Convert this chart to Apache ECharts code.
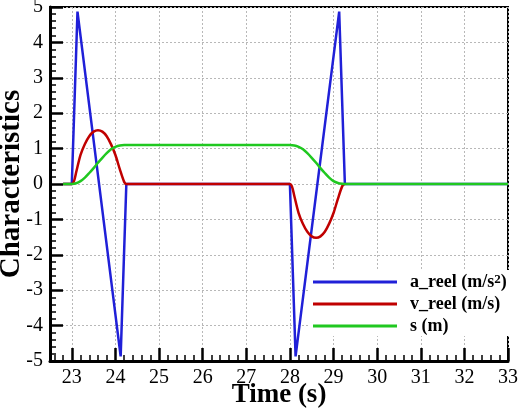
<!DOCTYPE html>
<html><head><meta charset="utf-8">
<script src="https://cdn.jsdelivr.net/npm/echarts@6/dist/echarts.min.js"></script>
<style>html,body{margin:0;padding:0;background:#fff}#c{width:520px;height:410px}</style>
</head><body><div id="c"></div>
<script>
// ---- data ----
const xTicks = [23, 24, 25, 26, 27, 28, 29, 30, 31, 32, 33];
const yTicks = [-5, -4, -3, -2, -1, 0, 1, 2, 3, 4, 5];

const aTime = [22.8, 23.0, 23.13, 24.12, 24.25, 28.0, 28.13, 29.13, 29.26, 33.0];
const aVals = [0, 0, 4.87, -4.87, 0, 0, -4.87, 4.87, 0, 0];

const vTime = [22.8, 23.0, 23.05, 23.1, 23.2, 23.3, 23.4, 23.5, 23.6, 23.7, 23.8, 23.9, 24.0, 24.1, 24.2, 24.25,
               28.0, 28.05, 28.1, 28.2, 28.3, 28.4, 28.5, 28.6, 28.7, 28.8, 28.9, 29.0, 29.1, 29.2, 29.25];
const vVals = [0, 0, 0.08, 0.33, 0.82, 1.13, 1.35, 1.48, 1.52, 1.48, 1.35, 1.12, 0.82, 0.42, 0.06, 0,
               0, -0.08, -0.33, -0.82, -1.13, -1.35, -1.48, -1.52, -1.48, -1.35, -1.12, -0.82, -0.42, -0.06, 0];

const sTime = [22.8, 23.0, 23.1, 23.2, 23.3, 23.4, 23.5, 23.6, 23.7, 23.8, 23.9, 24.0, 24.1, 24.2,
               28.0, 28.1, 28.2, 28.3, 28.4, 28.5, 28.6, 28.7, 28.8, 28.9, 29.0, 29.1, 29.2, 29.25, 33.0];
const sVals = [0, 0, 0.02, 0.08, 0.18, 0.31, 0.45, 0.6, 0.74, 0.87, 0.98, 1.05, 1.09, 1.1,
               1.1, 1.09, 1.05, 0.98, 0.87, 0.74, 0.6, 0.45, 0.31, 0.18, 0.08, 0.03, 0.005, 0, 0];

const seriesNames = ['a_reel', 'v_reel', 's'];
const legendLabels = ['a_reel (m/s{sup|2})', 'v_reel (m/s)', 's (m)'];
const xName = 'Time (s)';
const yName = 'Characteristics';

// ---- build ----
const zip = (t, v) => t.map((x, i) => [x, v[i]]);
const minorX = [];
[22].concat(xTicks).forEach(t => { for (let k = 1; k <= 4; k++) { const m = +(t + k * 0.2).toFixed(2); if (m > 22.5 && m < 33) minorX.push(m); } });

const serif = 'Liberation Serif';
const colors = ['#2020d8', '#c00000', '#20c820'];

const chart = echarts.init(document.getElementById('c'));
chart.setOption({
  animation: false,
  backgroundColor: '#fff',
  grid: { left: 50, right: 12, top: 7, bottom: 49, containLabel: false, outerBoundsMode: 'none',
          show: true, borderColor: '#000', borderWidth: 2, backgroundColor: 'transparent' },
  xAxis: [{
    type: 'value', min: 22.5, max: 33, splitNumber: 10,
    name: xName, nameLocation: 'middle', nameGap: 21, nameMoveOverlap: false,
    nameTextStyle: { fontFamily: serif, fontWeight: 'bold', fontSize: 27, color: '#000' },
    axisLine: { show: true, onZero: false, lineStyle: { color: '#000', width: 3 } },
    axisTick: { show: true, inside: true, length: 13, customValues: xTicks, lineStyle: { color: '#000', width: 2.5 } },
    axisLabel: { show: true, customValues: xTicks, margin: 7, fontFamily: serif, fontSize: 20, color: '#000' },
    splitLine: { show: true, lineStyle: { color: '#b8b8b8', type: [2, 2], width: 1 } }
  }, {
    type: 'value', min: 22.5, max: 33, position: 'bottom', offset: 0,
    axisLine: { show: false, onZero: false },
    axisTick: { show: true, inside: true, length: 6, customValues: minorX, lineStyle: { color: '#000', width: 1.5 } },
    axisLabel: { show: false },
    splitLine: { show: false }
  }],
  yAxis: {
    type: 'value', min: -5, max: 5, interval: 1,
    name: yName, nameLocation: 'middle', nameGap: 24, nameMoveOverlap: false,
    nameTextStyle: { fontFamily: serif, fontWeight: 'bold', fontSize: 29, color: '#000' },
    axisLine: { show: true, onZero: false, lineStyle: { color: '#000', width: 3 } },
    axisTick: { show: true, inside: true, length: 13, lineStyle: { color: '#000', width: 2.5 } },
    minorTick: { show: true, splitNumber: 5, length: 6, lineStyle: { color: '#000', width: 1.5 } },
    axisLabel: { margin: 7, fontFamily: serif, fontSize: 20, color: '#000' },
    splitLine: { show: true, lineStyle: { color: '#b8b8b8', type: [2, 2], width: 1 } },
    minorSplitLine: { show: false }
  },
  legend: {
    orient: 'vertical', left: 308, top: 270, padding: [3, 3, 1, 5], backgroundColor: '#fff',
    itemWidth: 84, itemHeight: 3, itemGap: 4, icon: 'rect',
    data: seriesNames,
    formatter: name => legendLabels[seriesNames.indexOf(name)],
    textStyle: {
      fontFamily: serif, fontWeight: 'bold', fontSize: 18, color: '#000', lineHeight: 18, padding: [0, 0, 0, 8],
      rich: { sup: { fontFamily: serif, fontWeight: 'bold', fontSize: 13, color: '#000', verticalAlign: 'top', lineHeight: 12 } }
    }
  },
  series: [
    { name: seriesNames[0], type: 'line', data: zip(aTime, aVals), showSymbol: false, symbol: 'none', color: colors[0], lineStyle: { width: 2.5, color: colors[0] }, z: 2 },
    { name: seriesNames[1], type: 'line', data: zip(vTime, vVals), showSymbol: false, symbol: 'none', smooth: 0.3, color: colors[1], lineStyle: { width: 2.5, color: colors[1] }, z: 3 },
    { name: seriesNames[2], type: 'line', data: zip(sTime, sVals), showSymbol: false, symbol: 'none', smooth: 0.3, color: colors[2], lineStyle: { width: 2.5, color: colors[2] }, z: 4 }
  ]
});
</script></body></html>
